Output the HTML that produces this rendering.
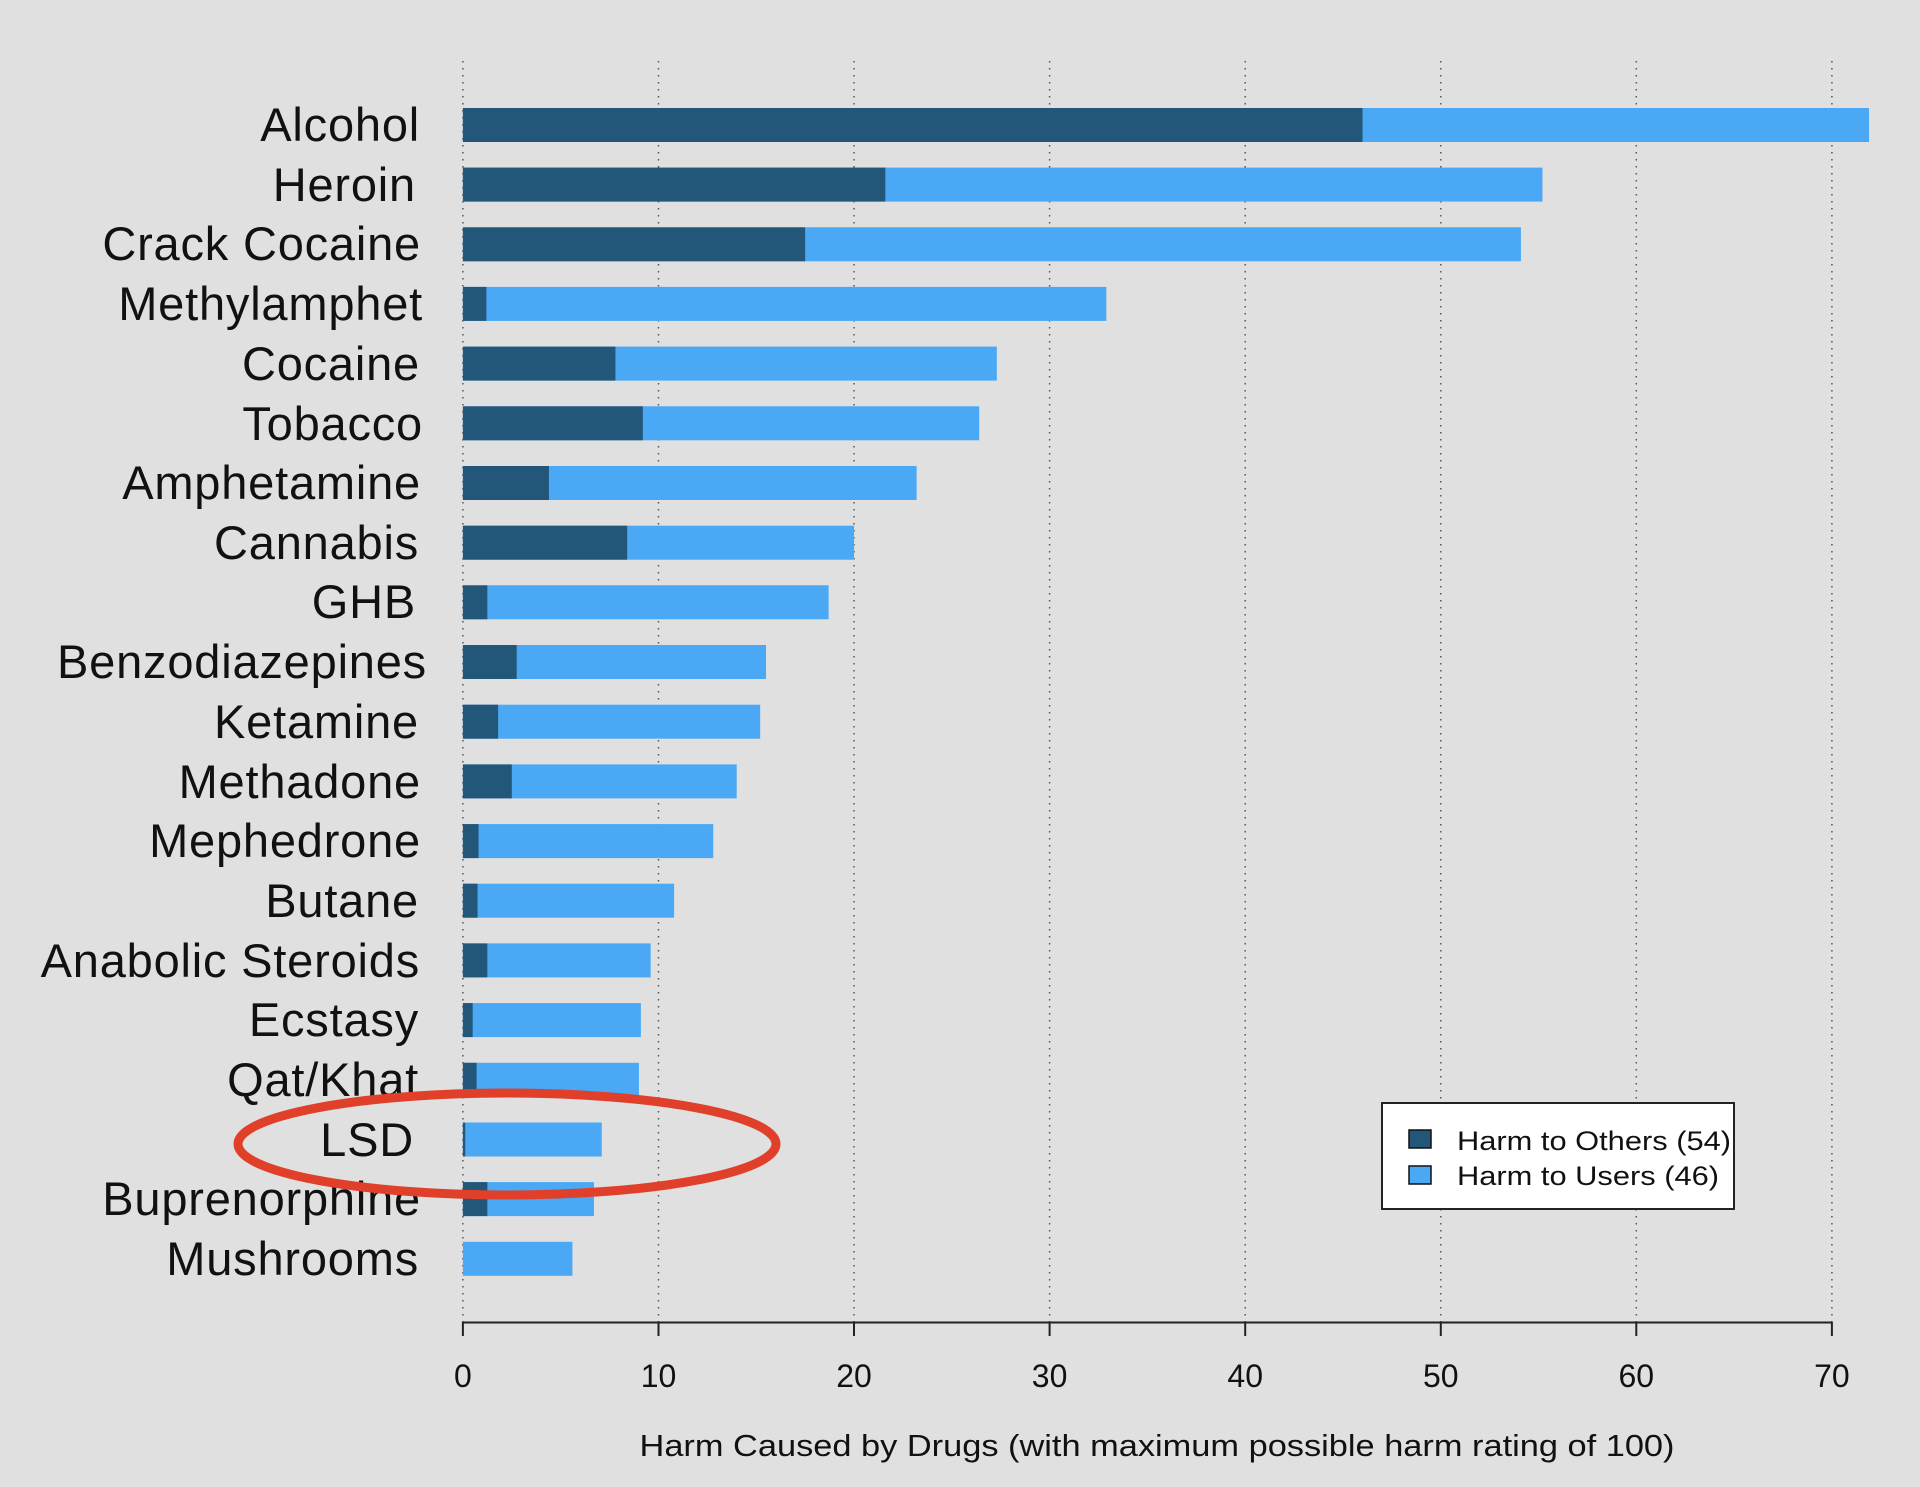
<!DOCTYPE html>
<html><head><meta charset="utf-8"><style>
html,body{margin:0;padding:0;background:#e0e0e0;}
svg{display:block;font-family:"Liberation Sans",sans-serif;}
</style></head><body>
<svg width="1920" height="1487" viewBox="0 0 1920 1487" xmlns="http://www.w3.org/2000/svg">
<rect width="1920" height="1487" fill="#e0e0e0"/>
<g stroke="#555" stroke-width="1.5" stroke-dasharray="1.5,5.5">
<line x1="462.9" y1="61" x2="462.9" y2="1322"/>
<line x1="658.5" y1="61" x2="658.5" y2="1322"/>
<line x1="854.0" y1="61" x2="854.0" y2="1322"/>
<line x1="1049.6" y1="61" x2="1049.6" y2="1322"/>
<line x1="1245.2" y1="61" x2="1245.2" y2="1322"/>
<line x1="1440.8" y1="61" x2="1440.8" y2="1322"/>
<line x1="1636.3" y1="61" x2="1636.3" y2="1322"/>
<line x1="1831.9" y1="61" x2="1831.9" y2="1322"/>
</g>
<g transform="translate(462.9,0) scale(19.557,1)">
<g fill="#4aa8f5">
<rect x="0" y="108" width="71.9" height="34"/>
<rect x="0" y="167.6" width="55.2" height="34"/>
<rect x="0" y="227.3" width="54.1" height="34"/>
<rect x="0" y="286.9" width="32.9" height="34"/>
<rect x="0" y="346.6" width="27.3" height="34"/>
<rect x="0" y="406.3" width="26.4" height="34"/>
<rect x="0" y="466" width="23.2" height="34"/>
<rect x="0" y="525.7" width="20.0" height="34"/>
<rect x="0" y="585.3" width="18.7" height="34"/>
<rect x="0" y="645" width="15.5" height="34"/>
<rect x="0" y="704.7" width="15.2" height="34"/>
<rect x="0" y="764.4" width="14.0" height="34"/>
<rect x="0" y="824.1" width="12.8" height="34"/>
<rect x="0" y="883.7" width="10.8" height="34"/>
<rect x="0" y="943.4" width="9.6" height="34"/>
<rect x="0" y="1003.1" width="9.1" height="34"/>
<rect x="0" y="1062.8" width="9.0" height="34"/>
<rect x="0" y="1122.5" width="7.1" height="34"/>
<rect x="0" y="1182.1" width="6.7" height="34"/>
<rect x="0" y="1241.8" width="5.6" height="34"/>
</g>
<g fill="#23577a">
<rect x="0" y="108" width="46.0" height="34"/>
<rect x="0" y="167.6" width="21.6" height="34"/>
<rect x="0" y="227.3" width="17.5" height="34"/>
<rect x="0" y="286.9" width="1.2" height="34"/>
<rect x="0" y="346.6" width="7.8" height="34"/>
<rect x="0" y="406.3" width="9.2" height="34"/>
<rect x="0" y="466" width="4.4" height="34"/>
<rect x="0" y="525.7" width="8.4" height="34"/>
<rect x="0" y="585.3" width="1.25" height="34"/>
<rect x="0" y="645" width="2.75" height="34"/>
<rect x="0" y="704.7" width="1.8" height="34"/>
<rect x="0" y="764.4" width="2.5" height="34"/>
<rect x="0" y="824.1" width="0.8" height="34"/>
<rect x="0" y="883.7" width="0.75" height="34"/>
<rect x="0" y="943.4" width="1.25" height="34"/>
<rect x="0" y="1003.1" width="0.5" height="34"/>
<rect x="0" y="1062.8" width="0.7" height="34"/>
<rect x="0" y="1122.5" width="0.12" height="34"/>
<rect x="0" y="1182.1" width="1.25" height="34"/>
</g>
</g>
<g font-size="47" fill="#111" text-anchor="end" letter-spacing="0.8">
<text x="420" y="141">Alcohol</text>
<text x="416" y="201">Heroin</text>
<text x="421" y="260">Crack Cocaine</text>
<text x="423" y="320">Methylamphet</text>
<text x="420" y="380">Cocaine</text>
<text x="423" y="440">Tobacco</text>
<text x="421" y="499">Amphetamine</text>
<text x="419" y="559">Cannabis</text>
<text x="416" y="618">GHB</text>
<text x="427" y="678">Benzodiazepines</text>
<text x="419" y="738">Ketamine</text>
<text x="421" y="798">Methadone</text>
<text x="421" y="857">Mephedrone</text>
<text x="419" y="917">Butane</text>
<text x="420" y="977">Anabolic Steroids</text>
<text x="419" y="1036">Ecstasy</text>
<text x="419" y="1096">Qat/Khat</text>
<text x="414" y="1156">LSD</text>
<text x="421" y="1215">Buprenorphine</text>
<text x="419" y="1275">Mushrooms</text>
</g>
<line x1="462.9" y1="1322.5" x2="1831.9" y2="1322.5" stroke="#222" stroke-width="2"/>
<g stroke="#222" stroke-width="2">
<line x1="462.9" y1="1322" x2="462.9" y2="1336"/>
<line x1="658.5" y1="1322" x2="658.5" y2="1336"/>
<line x1="854.0" y1="1322" x2="854.0" y2="1336"/>
<line x1="1049.6" y1="1322" x2="1049.6" y2="1336"/>
<line x1="1245.2" y1="1322" x2="1245.2" y2="1336"/>
<line x1="1440.8" y1="1322" x2="1440.8" y2="1336"/>
<line x1="1636.3" y1="1322" x2="1636.3" y2="1336"/>
<line x1="1831.9" y1="1322" x2="1831.9" y2="1336"/>
</g>
<g font-size="32" fill="#111" text-anchor="middle">
<text x="462.9" y="1387">0</text>
<text x="658.5" y="1387">10</text>
<text x="854.0" y="1387">20</text>
<text x="1049.6" y="1387">30</text>
<text x="1245.2" y="1387">40</text>
<text x="1440.8" y="1387">50</text>
<text x="1636.3" y="1387">60</text>
<text x="1831.9" y="1387">70</text>
</g>
<text x="1157" y="1456" font-size="31" fill="#111" text-anchor="middle" textLength="1035" lengthAdjust="spacingAndGlyphs">Harm Caused by Drugs (with maximum possible harm rating of 100)</text>
<rect x="1382" y="1103" width="352" height="106" fill="#fff" stroke="#222" stroke-width="2"/>
<rect x="1409" y="1130" width="22" height="18" fill="#23577a" stroke="#111" stroke-width="1.5"/>
<rect x="1409" y="1166" width="22" height="18" fill="#4aa8f5" stroke="#111" stroke-width="1.5"/>
<g font-size="27" fill="#111">
<text x="1457" y="1150" textLength="274" lengthAdjust="spacingAndGlyphs">Harm to Others (54)</text>
<text x="1457" y="1185" textLength="262" lengthAdjust="spacingAndGlyphs">Harm to Users (46)</text>
</g>
<ellipse cx="507" cy="1144" rx="269" ry="51" fill="none" stroke="#e0402a" stroke-width="9"/>
</svg>
</body></html>
